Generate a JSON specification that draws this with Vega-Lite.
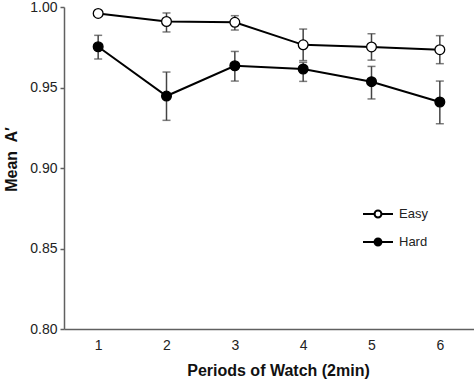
{
  "$schema": "https://vega.github.io/schema/vega-lite/v6.json",
  "width": 410,
  "height": 322,
  "autosize": "none",
  "padding": {"left": 64, "top": 7, "right": 0, "bottom": 55},
  "background": "white",
  "config": {
    "view": {"stroke": null},
    "font": "Liberation Sans",
    "axis": {"grid": false, "domainColor": "#606060", "domainWidth": 1.5, "tickColor": "#606060", "tickWidth": 1.5, "labelFont": "Liberation Sans", "labelFontSize": 14, "labelColor": "#222222", "titleFont": "Liberation Sans", "titleFontSize": 16, "titleFontWeight": "bold", "titleColor": "#111111"}
  },
  "data": {
    "values": [
      {"period": 1, "cond": "Easy", "mean": 0.996, "lo": 0.9945, "hi": 0.9975},
      {"period": 2, "cond": "Easy", "mean": 0.991, "lo": 0.9845, "hi": 0.9963},
      {"period": 3, "cond": "Easy", "mean": 0.9905, "lo": 0.9857, "hi": 0.9946},
      {"period": 4, "cond": "Easy", "mean": 0.9765, "lo": 0.9667, "hi": 0.9863},
      {"period": 5, "cond": "Easy", "mean": 0.9752, "lo": 0.967, "hi": 0.9834},
      {"period": 6, "cond": "Easy", "mean": 0.9735, "lo": 0.9648, "hi": 0.9822},
      {"period": 1, "cond": "Hard", "mean": 0.9753, "lo": 0.9677, "hi": 0.9824},
      {"period": 2, "cond": "Hard", "mean": 0.9447, "lo": 0.9296, "hi": 0.9596},
      {"period": 3, "cond": "Hard", "mean": 0.9635, "lo": 0.954, "hi": 0.9724},
      {"period": 4, "cond": "Hard", "mean": 0.9615, "lo": 0.9538, "hi": 0.9656},
      {"period": 5, "cond": "Hard", "mean": 0.9536, "lo": 0.9429, "hi": 0.9631},
      {"period": 6, "cond": "Hard", "mean": 0.941, "lo": 0.9275, "hi": 0.954}
    ]
  },
  "encoding": {
    "x": {"field": "period", "type": "quantitative", "scale": {"domain": [0.5, 6.5], "nice": false, "zero": false},
      "axis": {"values": [1, 2, 3, 4, 5, 6], "ticks": false, "labelPadding": 9, "title": "Periods of Watch (2min)", "titlePadding": 10, "titleX": 214}},
    "y": {"field": "mean", "type": "quantitative", "scale": {"domain": [0.8, 1.0], "nice": false, "zero": false},
      "axis": {"values": [0.8, 0.85, 0.9, 0.95, 1.0], "format": ".2f", "tickSize": 4, "labelPadding": 3, "title": "Mean\u00a0 A′", "titlePadding": 10, "titleY": 152}}
  },
  "layer": [
    {
      "mark": {"type": "rule", "color": "#444444", "strokeWidth": 1.5},
      "encoding": {"y": {"field": "lo", "type": "quantitative"}, "y2": {"field": "hi"}}
    },
    {
      "mark": {"type": "tick", "orient": "horizontal", "color": "#444444", "size": 8, "thickness": 1.5},
      "encoding": {"y": {"field": "lo", "type": "quantitative"}}
    },
    {
      "mark": {"type": "tick", "orient": "horizontal", "color": "#444444", "size": 8, "thickness": 1.5},
      "encoding": {"y": {"field": "hi", "type": "quantitative"}}
    },
    {
      "mark": {"type": "line", "color": "black", "strokeWidth": 2},
      "encoding": {"detail": {"field": "cond"}}
    },
    {
      "mark": {"type": "point", "shape": "circle", "filled": false, "size": 95, "stroke": "black", "strokeWidth": 1.3, "opacity": 1},
      "encoding": {
        "fill": {"field": "cond", "type": "nominal", "scale": {"domain": ["Easy", "Hard"], "range": ["white", "black"]},
          "legend": {"title": null, "orient": "none", "legendX": 298, "legendY": 191, "padding": 0, "rowPadding": 4,
            "symbolType": "M-1,0H-0.23M0.23,0H1M-0.23,0A0.23,0.23,0,1,1,0.23,0A0.23,0.23,0,1,1,-0.23,0Z",
            "symbolSize": 900, "symbolStrokeColor": "black", "symbolStrokeWidth": 2, "symbolOpacity": 1,
            "labelFont": "Liberation Sans", "labelFontSize": 13, "labelColor": "#222222", "labelOffset": 5}}
      }
    }
  ]
}
